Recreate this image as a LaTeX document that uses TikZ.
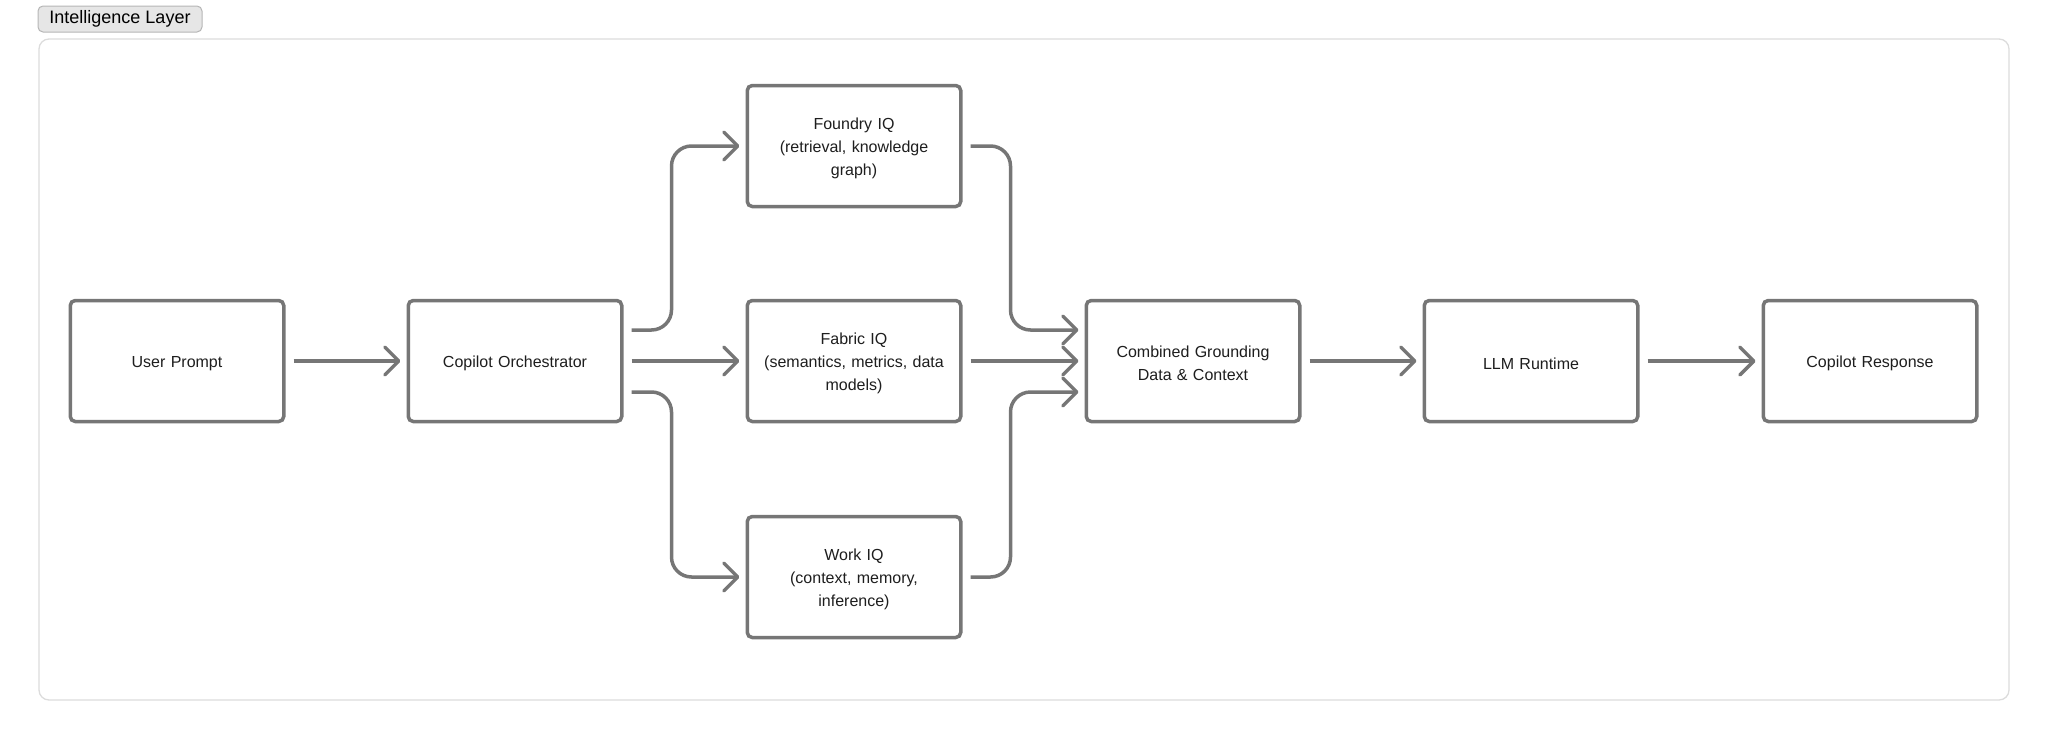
\documentclass[tikz,border=0pt]{standalone}
\usepackage{fontspec}
\setmainfont{Liberation Sans}
\usetikzlibrary{arrows.meta,calc}
\definecolor{linegray}{HTML}{767676}
\definecolor{txt}{HTML}{1E1E1E}
\definecolor{contborder}{HTML}{DCDCDC}
\definecolor{labfill}{HTML}{E6E6E6}
\definecolor{labborder}{HTML}{B5B5B5}
\tikzset{
  box/.style={draw=linegray, line width=3.5pt, rounded corners=5pt, fill=white,
    minimum width=213.5pt, minimum height=121pt, align=center, text width=190pt,
    text=txt, font=\fontsize{16}{23}\selectfont, inner sep=0pt,
    execute at begin node={\rule{0pt}{16.5pt}}},
  conn/.style={draw=linegray, line width=3.5pt, rounded corners=20pt,
    -{Straight Barb[length=14pt,width=28pt,round]}, shorten <=8pt, shorten >=6pt},
  container/.style={draw=contborder, line width=1.3pt, rounded corners=10pt,
    minimum width=1970pt, minimum height=661pt, inner sep=0pt},
  lab/.style={draw=labborder, fill=labfill, line width=1pt, rounded corners=5pt,
    minimum width=164pt, minimum height=26pt, inner sep=0pt,
    font=\fontsize{18}{20}\selectfont, text=black}
}
\begin{document}
\begin{tikzpicture}[x=1pt,y=-1pt]
\useasboundingbox (0,0) rectangle (2048,739);
\node[container] (layer) at (1024,369.5) {};
\node[lab] (lablayer) at (120,19) {Intelligence Layer};

\node[box] (user) at (177,361) {User Prompt};
\node[box] (orch) at (515,361) {Copilot Orchestrator};
\node[box] (foundry) at (854,146) {Foundry IQ\\(retrieval, knowledge\\graph)};
\node[box] (fabric) at (854,361) {Fabric IQ\\(semantics, metrics, data\\models)};
\node[box] (work) at (854,577) {Work IQ\\(context, memory,\\inference)};
\node[box] (comb) at (1193,361) {Combined Grounding\\Data \& Context};
\node[box] (llm) at (1531,361) {LLM Runtime};
\node[box] (resp) at (1870,361) {Copilot Response};

\draw[conn] (user.east) -- (orch.west);
\draw[conn] ([yshift=31pt]orch.east) -- ([xshift=48pt,yshift=31pt]orch.east) |- (foundry.west);
\draw[conn] (orch.east) -- (fabric.west);
\draw[conn] ([yshift=-31pt]orch.east) -- ([xshift=48pt,yshift=-31pt]orch.east) |- (work.west);
\draw[conn] (foundry.east) -- ([xshift=48pt]foundry.east) |- ([yshift=31pt]comb.west);
\draw[conn] (fabric.east) -- (comb.west);
\draw[conn] (work.east) -- ([xshift=48pt]work.east) |- ([yshift=-31pt]comb.west);
\draw[conn] (comb.east) -- (llm.west);
\draw[conn] (llm.east) -- (resp.west);
\end{tikzpicture}
\end{document}
